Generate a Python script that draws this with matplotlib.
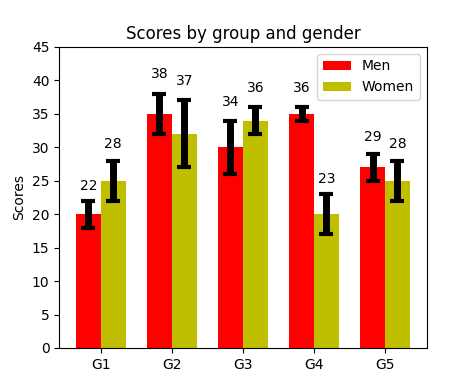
import numpy as np
import matplotlib
matplotlib.use("Agg")
import matplotlib.pyplot as plt

# --- Data ---
groups = ['G1', 'G2', 'G3', 'G4', 'G5']
men_means = [20, 35, 30, 35, 27]
men_std = [2, 3, 4, 1, 2]
women_means = [25, 32, 34, 20, 25]
women_std = [3, 5, 2, 3, 3]

ind = np.arange(len(groups))
width = 0.35
err_style = dict(elinewidth=5, capsize=5, capthick=3, ecolor='k')

fig, ax = plt.subplots(figsize=(4.74, 3.91), dpi=100)
rects1 = ax.bar(ind, men_means, width, color='r', yerr=men_std, error_kw=err_style)
rects2 = ax.bar(ind + width, women_means, width, color='y', yerr=women_std, error_kw=err_style)

ax.set_ylabel('Scores')
ax.set_title('Scores by group and gender')
ax.set_xticks(ind + width / 2)
ax.set_xticklabels(groups)
ax.set_ylim(0, 45)
ax.legend((rects1[0], rects2[0]), ('Men', 'Women'), loc='upper right')


def autolabel(rects, stds):
    # label sits above the top of the error bar
    for rect, s in zip(rects, stds):
        height = rect.get_height() + s
        ax.text(rect.get_x() + rect.get_width() / 2., 1.05 * height,
                '%d' % int(height), ha='center', va='bottom')


autolabel(rects1, men_std)
autolabel(rects2, women_std)

plt.savefig('out.png', dpi=100)
